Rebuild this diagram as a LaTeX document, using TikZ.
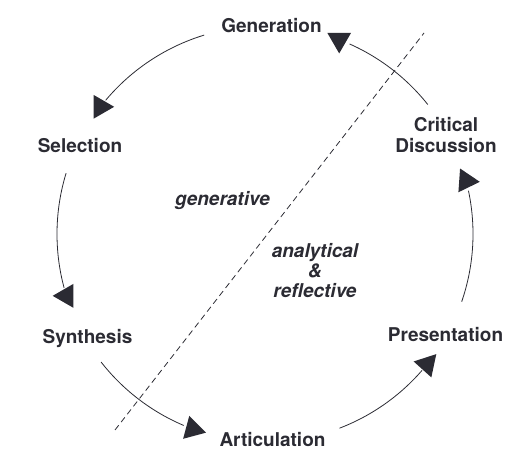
\documentclass[tikz,border=0pt]{standalone}
\usepackage{fontspec}
\setmainfont{TeX Gyre Heros}
\usepackage{xcolor}
\usepackage{tikz}
\usetikzlibrary{calc}
\usetikzlibrary{shapes.geometric}
\definecolor{ink}{HTML}{2B2B33}

\begin{document}
\begin{tikzpicture}[x=1pt,y=1pt,
	stage/.style={font=\fontsize{19}{21}\selectfont\bfseries,text=ink,inner sep=0pt,align=center},
	mode/.style={font=\fontsize{19}{20}\selectfont\bfseries\itshape,text=ink,inner sep=0pt,align=center},
	cyc/.style={draw=ink,line width=0.8pt},
	split/.style={draw=ink,line width=0.8pt,dash pattern=on 6pt off 4pt},
	head/.style={regular polygon,regular polygon sides=3,fill=ink,minimum size=27.5pt,inner sep=0pt}]
	\useasboundingbox (0,0) rectangle (522,457);
	\coordinate (O) at (265,223);
% stages
	\node[stage,anchor=base] (gen) at (271.5,424) {Generation};
	\node[stage,anchor=base] (sel) at (80,304) {Selection};
	\node[stage,anchor=base] (syn) at (87.5,113) {Synthesis};
	\node[stage,anchor=base] (art) at (272.5,10) {Articulation};
	\node[stage,anchor=base] (pres) at (445.5,115) {Presentation};
	\node[stage] (disc) at (446,322) {Critical\\Discussion};
% modes
	\node[mode,anchor=base] (generative) at (222.5,251) {generative};
	\node[mode] (analytic) at (315,186) {analytical\\\&\\reflective};
% divide
	\coordinate (lo) at (115,27);
	\coordinate (hi) at (424,424);
	\draw[split] (lo) -- (hi);
% cycle
	\foreach \a/\b/\t/\r [count=\i] in {107/140/142.3/-90, 163/195/197.3/90, 218/247/249.7/15, 291/319/321.2/78, 341/372/374.8/-94, 38.5/66/69.1/180}{
		\draw[cyc] ($(O)+(\a:208)$) arc[start angle=\a, end angle=\b, radius=208pt];
		\node[head,rotate=\r] (tip\i) at ($(O)+(\t:208)$) {};
	}
\end{tikzpicture}
\end{document}
